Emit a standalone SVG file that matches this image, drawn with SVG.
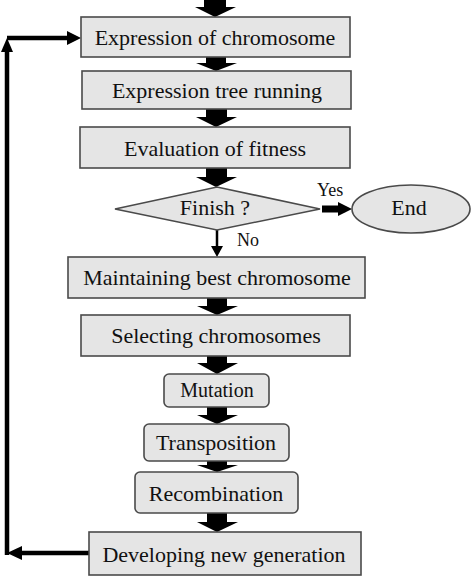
<svg xmlns="http://www.w3.org/2000/svg" width="472" height="576" viewBox="0 0 472 576">
<style>
.box{fill:#e5e5e5;stroke:#4a4a4a;stroke-width:1.6}
.t{font-family:"Liberation Serif","Times New Roman",serif;font-size:22px;fill:#111;text-anchor:middle}
.s{font-family:"Liberation Serif","Times New Roman",serif;font-size:18px;fill:#111}
.blk{fill:#000}
.ln{fill:none;stroke:#000;stroke-width:4.5}
</style>
<rect width="472" height="576" fill="#fff"/>
<g id="connectors">
<polygon class="blk" points="204,0 226,0 226,7 236,7 215,17 195,7 204,7"/>
<polygon class="blk" points="206,57 226,57 226,63 237,63 216,71 196,63 206,63"/>
<polygon class="blk" points="206,109 227,109 227,117 237,117 216,127 196,117 206,117"/>
<polygon class="blk" points="206,168 227,168 227,177 237,177 216,187 196,177 206,177"/>
<polygon class="blk" points="322,205.5 338,205.5 338,202 352,209 338,216 338,212.5 322,212.5"/>
<line x1="217" y1="230" x2="217" y2="248" stroke="#000" stroke-width="2.5"/>
<polygon class="blk" points="211,246 223,246 217,257"/>
<text class="s" x="237" y="246">No</text>
<text class="s" x="317" y="196">Yes</text>
<polygon class="blk" points="207,298 227,298 227,306 238,306 217,315 197,306 207,306"/>
<polygon class="blk" points="207,356 227,356 227,363 238,363 217,374 197,363 207,363"/>
<polygon class="blk" points="207,407 227,407 227,415 238,415 217,424 197,415 207,415"/>
<polygon class="blk" points="207,457 227,457 227,465 238,465 217,472 197,465 207,465"/>
<polygon class="blk" points="207,513 227,513 227,522 238,522 217,532 197,522 207,522"/>
<polyline class="ln" points="89,553 20,553"/>
<polygon class="blk" points="7,553 22,546 22,560"/>
<polyline class="ln" points="7,555 7,50"/>
<polygon class="blk" points="7,38 1,52 13,52"/>
<polyline class="ln" points="7,38 68,38"/>
<polygon class="blk" points="81,38 67,31 67,45"/>
</g>
<g id="n1"><rect class="box" x="81" y="17" width="269" height="40"/><text class="t" x="215" y="45">Expression of chromosome</text></g>
<g id="n2"><rect class="box" x="82" y="71" width="269" height="38"/><text class="t" x="217" y="98">Expression tree running</text></g>
<g id="n3"><rect class="box" x="80" y="127" width="270" height="41"/><text class="t" x="215" y="156">Evaluation of fitness</text></g>
<g id="n4"><polygon class="box" points="115,209 217,187 320,209 217,230"/><text class="t" x="215" y="215">Finish ?</text></g>
<g id="n5"><ellipse class="box" cx="411" cy="209" rx="59" ry="24"/><text class="t" x="409" y="215">End</text></g>
<g id="n6"><rect class="box" x="68" y="257" width="297" height="41"/><text class="t" x="217" y="285">Maintaining best chromosome</text></g>
<g id="n7"><rect class="box" x="81" y="315" width="269" height="41"/><text class="t" x="216" y="343">Selecting chromosomes</text></g>
<g id="n8"><rect class="box" x="164" y="374" width="105" height="33" rx="5"/><text class="t" x="217" y="397" style="font-size:20px">Mutation</text></g>
<g id="n9"><rect class="box" x="144" y="424" width="145" height="37" rx="5"/><text class="t" x="216" y="450">Transposition</text></g>
<g id="n10"><rect class="box" x="135" y="472" width="163" height="41" rx="5"/><text class="t" x="216" y="501">Recombination</text></g>
<g id="n11"><rect class="box" x="89" y="532" width="272" height="43"/><text class="t" x="224" y="562">Developing new generation</text></g>
</svg>
